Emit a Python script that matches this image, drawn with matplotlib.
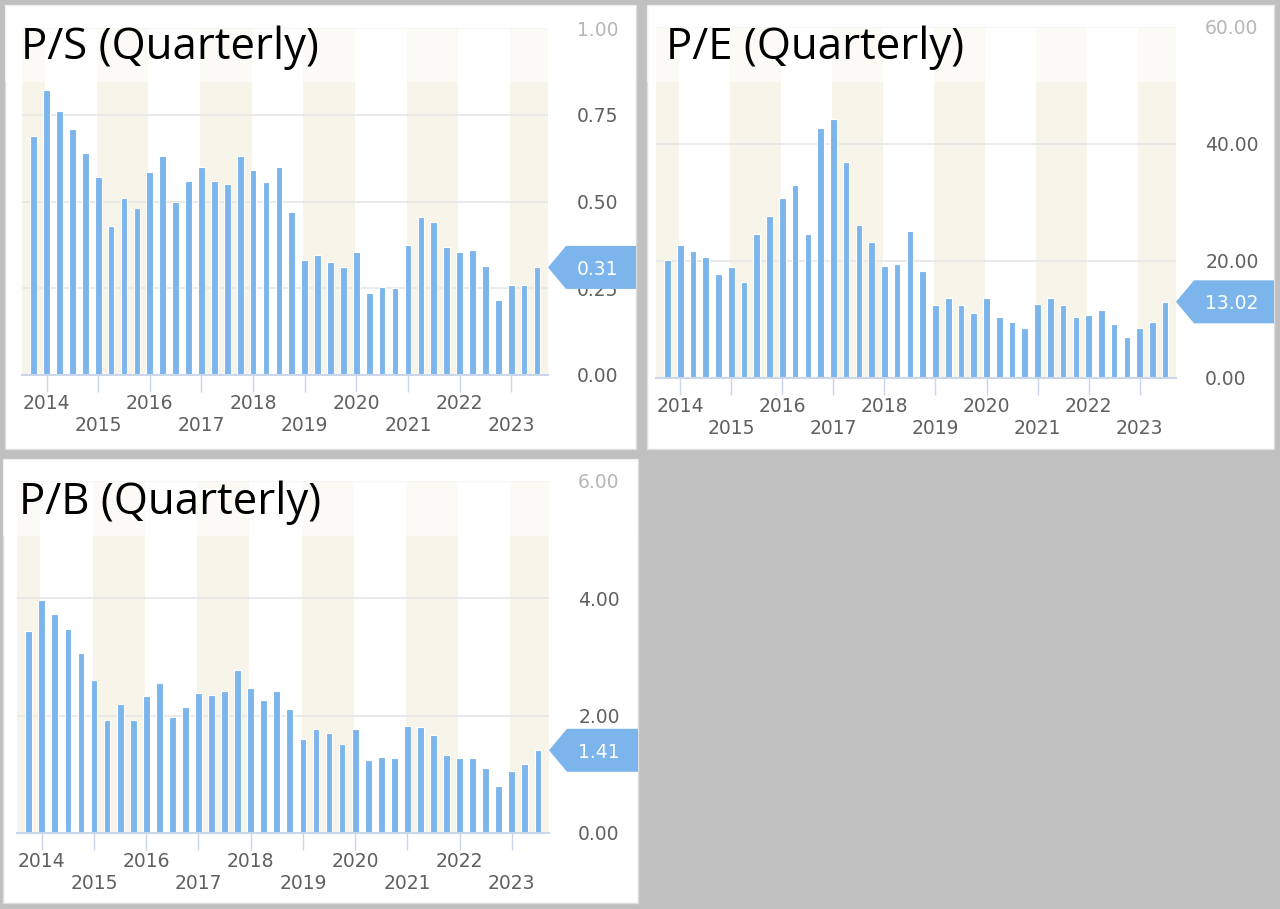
import numpy as np
import pandas as pd
import matplotlib
matplotlib.use("Agg")
import matplotlib.pyplot as plt
from matplotlib.patches import Rectangle, Polygon

# quarterly values, 2013Q4 .. 2023Q3
quarters = pd.period_range("2013Q4", "2023Q3", freq="Q")
ps_vals = [0.69, 0.82, 0.76, 0.71, 0.64, 0.57, 0.43, 0.51, 0.48, 0.585,
           0.63, 0.50, 0.56, 0.60, 0.56, 0.55, 0.63, 0.59, 0.555, 0.60,
           0.47, 0.33, 0.345, 0.325, 0.31, 0.355, 0.235, 0.255, 0.25, 0.375,
           0.455, 0.44, 0.37, 0.355, 0.36, 0.315, 0.215, 0.26, 0.26, 0.31]
pe_vals = [20.2, 22.7, 21.7, 20.7, 17.7, 18.9, 16.4, 24.6, 27.7, 30.8,
           33.0, 24.6, 42.7, 44.3, 37.0, 26.1, 23.3, 19.2, 19.5, 25.2,
           18.3, 12.4, 13.6, 12.4, 11.1, 13.6, 10.5, 9.5, 8.6, 12.7,
           13.6, 12.4, 10.5, 10.8, 11.7, 9.2, 7.0, 8.6, 9.5, 13.02]
pb_vals = [3.45, 3.98, 3.73, 3.48, 3.07, 2.61, 1.92, 2.20, 1.92, 2.33,
           2.55, 1.98, 2.14, 2.39, 2.36, 2.42, 2.77, 2.48, 2.27, 2.42,
           2.11, 1.61, 1.77, 1.70, 1.52, 1.77, 1.24, 1.30, 1.27, 1.83,
           1.80, 1.67, 1.33, 1.27, 1.27, 1.11, 0.80, 1.05, 1.18, 1.41]

ps_ticks = [0, 0.25, 0.5, 0.75, 1.0]
pe_ticks = [0, 20, 40, 60]
pb_ticks = [0, 2, 4, 6]

W, H = 1280, 909
BAR = "#7cb5ec"
BAND = "#f7f5ea"
AXIS = "#ccd6eb"
GRID = "#e6e6e6"
LABEL = "#606060"

fig = plt.figure(figsize=(W / 100, H / 100), dpi=100)
fig.patch.set_facecolor("#c0c0c0")


def frac(l, t, r, b):
    return [l / W, 1 - b / H, (r - l) / W, (b - t) / H]


def draw_panel(title, vals, yticks, panel, plot, overlay_bottom, title_xy):
    px0, py0, px1, py1 = panel
    fig.add_artist(Rectangle((px0 / W, 1 - py1 / H), (px1 - px0) / W, (py1 - py0) / H,
                             transform=fig.transFigure, facecolor="white",
                             edgecolor="#dddddd", lw=1, zorder=-1))

    ax = fig.add_axes(frac(*plot))
    ax.set_facecolor("none")
    x = np.arange(len(vals))
    xmin, xmax = -0.9, len(vals) - 0.15
    ax.set_xlim(xmin, xmax)
    ax.set_ylim(yticks[0], yticks[-1])

    # year bands, alternating
    q1 = [i for i, q in enumerate(quarters) if q.quarter == 1]
    starts = [xmin] + [i - 0.1 for i in q1] + [xmax]
    for k in range(len(starts) - 1):
        if k % 2 == 0:
            ax.axvspan(starts[k], starts[k + 1], color=BAND, lw=0, zorder=0)

    ax.bar(x, vals, width=0.52, color=BAR, edgecolor="white", linewidth=0.8, zorder=2)

    ax.set_yticks(yticks)
    ax.set_yticklabels([f"{t:.2f}" for t in yticks])
    ax.yaxis.tick_right()
    ax.grid(axis="y", color=GRID, lw=1.2, zorder=1)
    ax.set_axisbelow(True)
    ax.tick_params(axis="y", length=0, pad=21, labelsize=13.5, labelcolor=LABEL)

    ax.set_xticks(q1)
    ax.set_xticklabels([("" if quarters[i].year % 2 == 0 else "\n") + str(quarters[i].year) for i in q1])
    ax.tick_params(axis="x", length=12, width=1, color=AXIS, direction="out",
                   pad=1.5, labelsize=13.5, labelcolor=LABEL)
    for s in ["top", "left", "right"]:
        ax.spines[s].set_visible(False)
    ax.spines["bottom"].set_color(AXIS)
    ax.spines["bottom"].set_linewidth(1.5)

    # last value flag
    tip = fig.transFigure.inverted().transform(ax.transData.transform((xmax, vals[-1])))
    tx, ty = tip[0] * W, (1 - tip[1]) * H
    hh = 21.5
    pts = [(tx, ty), (tx + 18, ty - hh), (px1, ty - hh), (px1, ty + hh), (tx + 18, ty + hh)]
    fig.add_artist(Polygon([(a / W, 1 - b / H) for a, b in pts], closed=True,
                           transform=fig.transFigure, facecolor=BAR, edgecolor="none", zorder=3))
    fig.text((plot[2] + 29) / W, 1 - ty / H, f"{vals[-1]:.2f}", color="white",
             fontsize=13.5, ha="left", va="center_baseline", zorder=4)

    # translucent title box
    fig.add_artist(Rectangle((px0 / W, 1 - overlay_bottom / H), (px1 - px0) / W,
                             (overlay_bottom - py0) / H, transform=fig.transFigure,
                             facecolor="white", alpha=0.55, lw=0, zorder=5))
    fig.text(title_xy[0] / W, 1 - title_xy[1] / H, title, family="Open Sans",
             fontsize=31.5, color="black", ha="left", va="baseline", zorder=6)


draw_panel("P/S (Quarterly)", ps_vals, ps_ticks, (5, 5, 636, 449), (22, 28, 548, 375), 82, (21, 59))
draw_panel("P/E (Quarterly)", pe_vals, pe_ticks, (647, 5, 1274, 449), (656, 27, 1176, 378), 82, (666, 59))
draw_panel("P/B (Quarterly)", pb_vals, pb_ticks, (3, 459, 638, 903), (17, 481, 549, 833), 536, (19, 514))

fig.savefig("out.png", dpi=100, facecolor=fig.get_facecolor())
